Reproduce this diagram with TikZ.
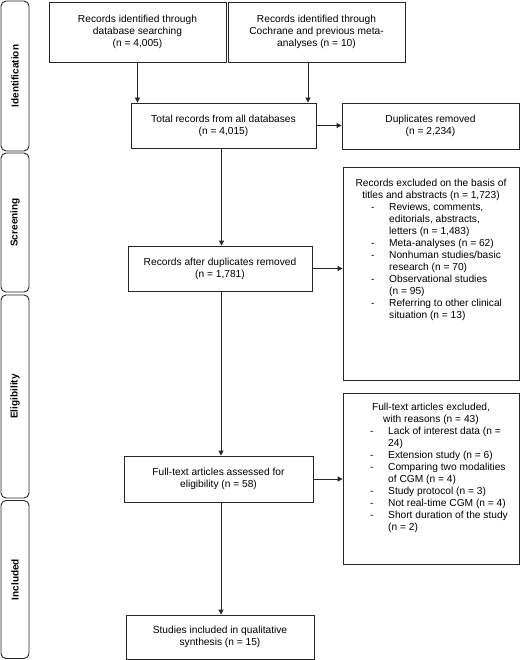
\documentclass[tikz,border=0pt]{standalone}
\usepackage{fontspec}
\setmainfont{Liberation Sans}
\usetikzlibrary{arrows.meta}
\tikzset{
  box/.style={draw=black!85, line width=0.8pt, inner sep=2pt, align=center,
    font=\fontsize{10.2}{12}\selectfont},
  bar/.style={draw=black!85, line width=0.9pt, rounded corners=5pt, rotate=90,
    minimum height=28pt, inner sep=0pt, font=\fontsize{10}{12}\selectfont\bfseries},
  txt/.style={inner sep=0pt, font=\fontsize{10.2}{12}\selectfont},
  arr/.style={draw=black!85, line width=0.8pt, -{Triangle[length=5pt,width=5pt]}}
}
\begin{document}
\begin{tikzpicture}[x=1pt,y=1pt]
\useasboundingbox (0,0) rectangle (520,-660);
% phase bars
\node[bar, minimum width=150pt] (idb) at (15,-76) {Identification};
\node[bar, minimum width=139pt] (scb) at (15,-222.5) {Screening};
\node[bar, minimum width=203pt] (elb) at (15,-396.5) {Eligibility};
\node[bar, minimum width=158pt] (inb) at (15,-579.5) {Included};
% boxes
\node[box, minimum width=177pt, minimum height=60pt] (A) at (137.5,-32)
  {Records identified through\\database searching\\(n = 4,005)};
\node[box, minimum width=177pt, minimum height=60pt] (B) at (316.5,-32)
  {Records identified through\\Cochrane and previous meta-\\analyses (n = 10)};
\node[box, minimum width=185pt, minimum height=45pt] (T) at (223.5,-125.5)
  {Total records from all databases\\(n = 4,015)};
\node[box, minimum width=177pt, minimum height=46pt] (D) at (430.5,-126)
  {Duplicates removed\\(n = 2,234)};
\node[box, minimum width=184pt, minimum height=45pt] (R) at (220,-268.5)
  {Records after duplicates removed\\(n = 1,781)};
\node[box, minimum width=176pt, minimum height=213pt] (E1) at (431,-273.5) {};
\node[box, minimum width=176pt, minimum height=171pt] (E2) at (431,-478.5) {};
\node[box, minimum width=189pt, minimum height=46pt] (F) at (218.5,-479)
  {Full-text articles assessed for\\eligibility (n = 58)};
\node[box, minimum width=188pt, minimum height=44pt] (S) at (220,-637)
  {Studies included in qualitative\\synthesis (n = 15)};
% texts of exclusion boxes
\node[txt, anchor=base] (E1h) at (431,-186.5)
  {\begin{tabular}[t]{@{}c@{}}Records excluded on the basis of\\titles and abstracts (n = 1,723)\end{tabular}};
\node[txt, anchor=base west] (E1l) at (368,-210.5)
  {\begin{tabular}[t]{@{}p{21pt}@{}l@{}}
  \hspace{3pt}- & Reviews, comments,\\
   & editorials, abstracts,\\
   & letters (n = 1,483)\\
  \hspace{3pt}- & Meta-analyses (n = 62)\\
  \hspace{3pt}- & Nonhuman studies/basic\\
   & research (n = 70)\\
  \hspace{3pt}- & Observational studies\\
   & (n = 95)\\
  \hspace{3pt}- & Referring to other clinical\\
   & situation (n = 13)
  \end{tabular}};
\node[txt, anchor=base] (E2h) at (431,-410.5)
  {\begin{tabular}[t]{@{}c@{}}Full-text articles excluded,\\with reasons (n = 43)\end{tabular}};
\node[txt, anchor=base west] (E2l) at (367,-434.5)
  {\begin{tabular}[t]{@{}p{21pt}@{}l@{}}
  \hspace{3pt}- & Lack of interest data (n =\\
   & 24)\\
  \hspace{3pt}- & Extension study (n = 6)\\
  \hspace{3pt}- & Comparing two modalities\\
   & of CGM (n = 4)\\
  \hspace{3pt}- & Study protocol (n = 3)\\
  \hspace{3pt}- & Not real-time CGM (n = 4)\\
  \hspace{3pt}- & Short duration of the study\\
   & (n = 2)
  \end{tabular}};
% connectors
\draw[arr] (A.south) -- (A.south |- T.north);
\draw[arr] ([xshift=-8.5pt]B.south) -- ([xshift=-8.5pt]B.south |- T.north);
\draw[arr] (T.east) -- (T.east -| D.west);
\draw[arr] ([xshift=-2pt]T.south) -- ([xshift=-2pt]T.south |- R.north);
\draw[arr] (R.east) -- (R.east -| E1.west);
\draw[arr] ([xshift=1pt]R.south) -- ([xshift=1pt]R.south |- F.north);
\draw[arr] (F.east) -- (F.east -| E2.west);
\draw[arr] ([xshift=2.5pt]F.south) -- ([xshift=2.5pt]F.south |- S.north);
\end{tikzpicture}
\end{document}
